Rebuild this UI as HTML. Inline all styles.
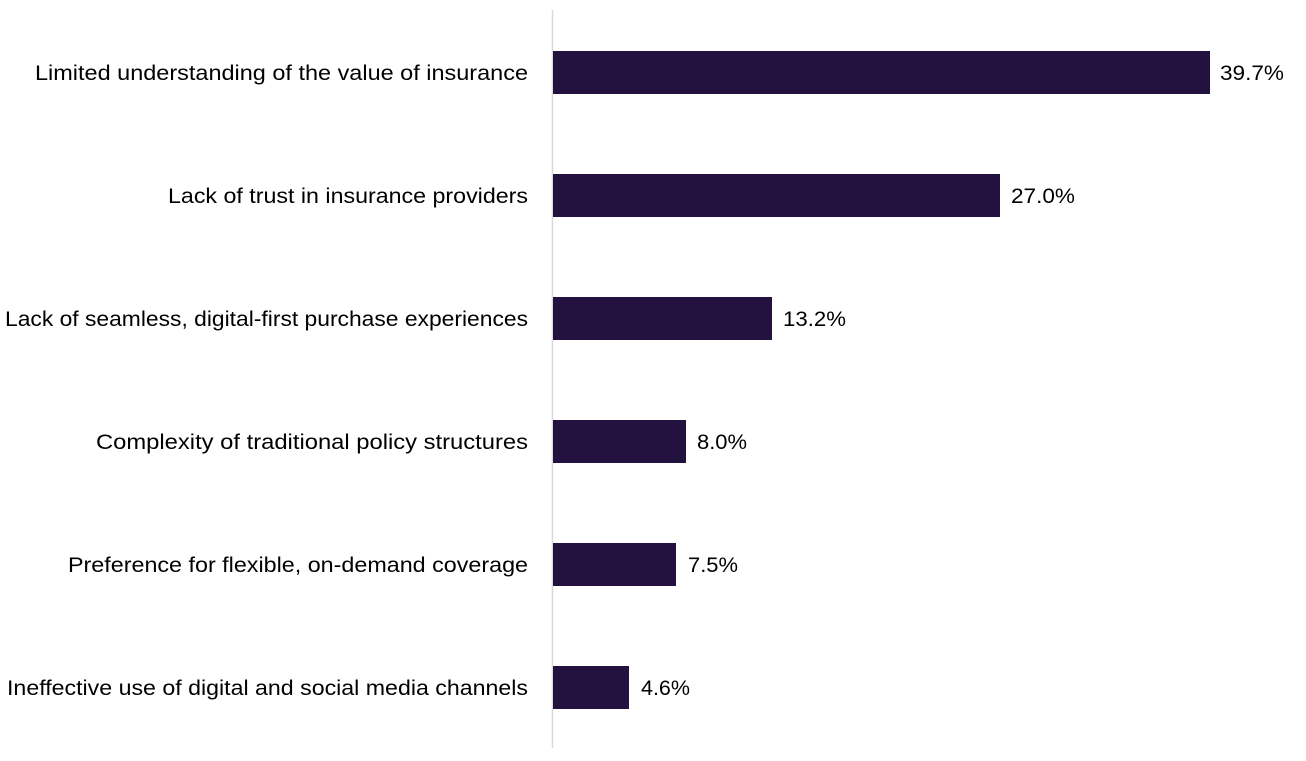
<!DOCTYPE html>
<html><head><style>body{margin:0;background:#fff}</style></head><body>
<svg width="1306" height="756" xmlns="http://www.w3.org/2000/svg" font-family="'Liberation Sans', sans-serif" font-size="21" fill="#000">
<line x1="552.5" y1="10" x2="552.5" y2="748" stroke="#d9d9d9" stroke-width="1.5"/>
<g fill="#231240">
<rect x="553" y="51" width="657" height="43"/>
<rect x="553" y="174" width="447" height="43"/>
<rect x="553" y="297" width="219" height="43"/>
<rect x="553" y="420" width="133" height="43"/>
<rect x="553" y="543" width="123" height="43"/>
<rect x="553" y="666" width="76" height="43"/>
</g>
<g text-anchor="start">
<text x="35" y="80" textLength="493" lengthAdjust="spacingAndGlyphs">Limited understanding of the value of insurance</text>
<text x="168" y="203" textLength="360" lengthAdjust="spacingAndGlyphs">Lack of trust in insurance providers</text>
<text x="5" y="326" textLength="523" lengthAdjust="spacingAndGlyphs">Lack of seamless, digital-first purchase experiences</text>
<text x="96" y="449" textLength="432" lengthAdjust="spacingAndGlyphs">Complexity of traditional policy structures</text>
<text x="68" y="572" textLength="460" lengthAdjust="spacingAndGlyphs">Preference for flexible, on-demand coverage</text>
<text x="7" y="695" textLength="521" lengthAdjust="spacingAndGlyphs">Ineffective use of digital and social media channels</text>
<text x="1220" y="80" textLength="64" lengthAdjust="spacingAndGlyphs">39.7%</text>
<text x="1011" y="203" textLength="64" lengthAdjust="spacingAndGlyphs">27.0%</text>
<text x="783" y="326" textLength="63" lengthAdjust="spacingAndGlyphs">13.2%</text>
<text x="697" y="449" textLength="50" lengthAdjust="spacingAndGlyphs">8.0%</text>
<text x="688" y="572" textLength="50" lengthAdjust="spacingAndGlyphs">7.5%</text>
<text x="641" y="695" textLength="49" lengthAdjust="spacingAndGlyphs">4.6%</text>
</g>
</svg>
</body></html>
